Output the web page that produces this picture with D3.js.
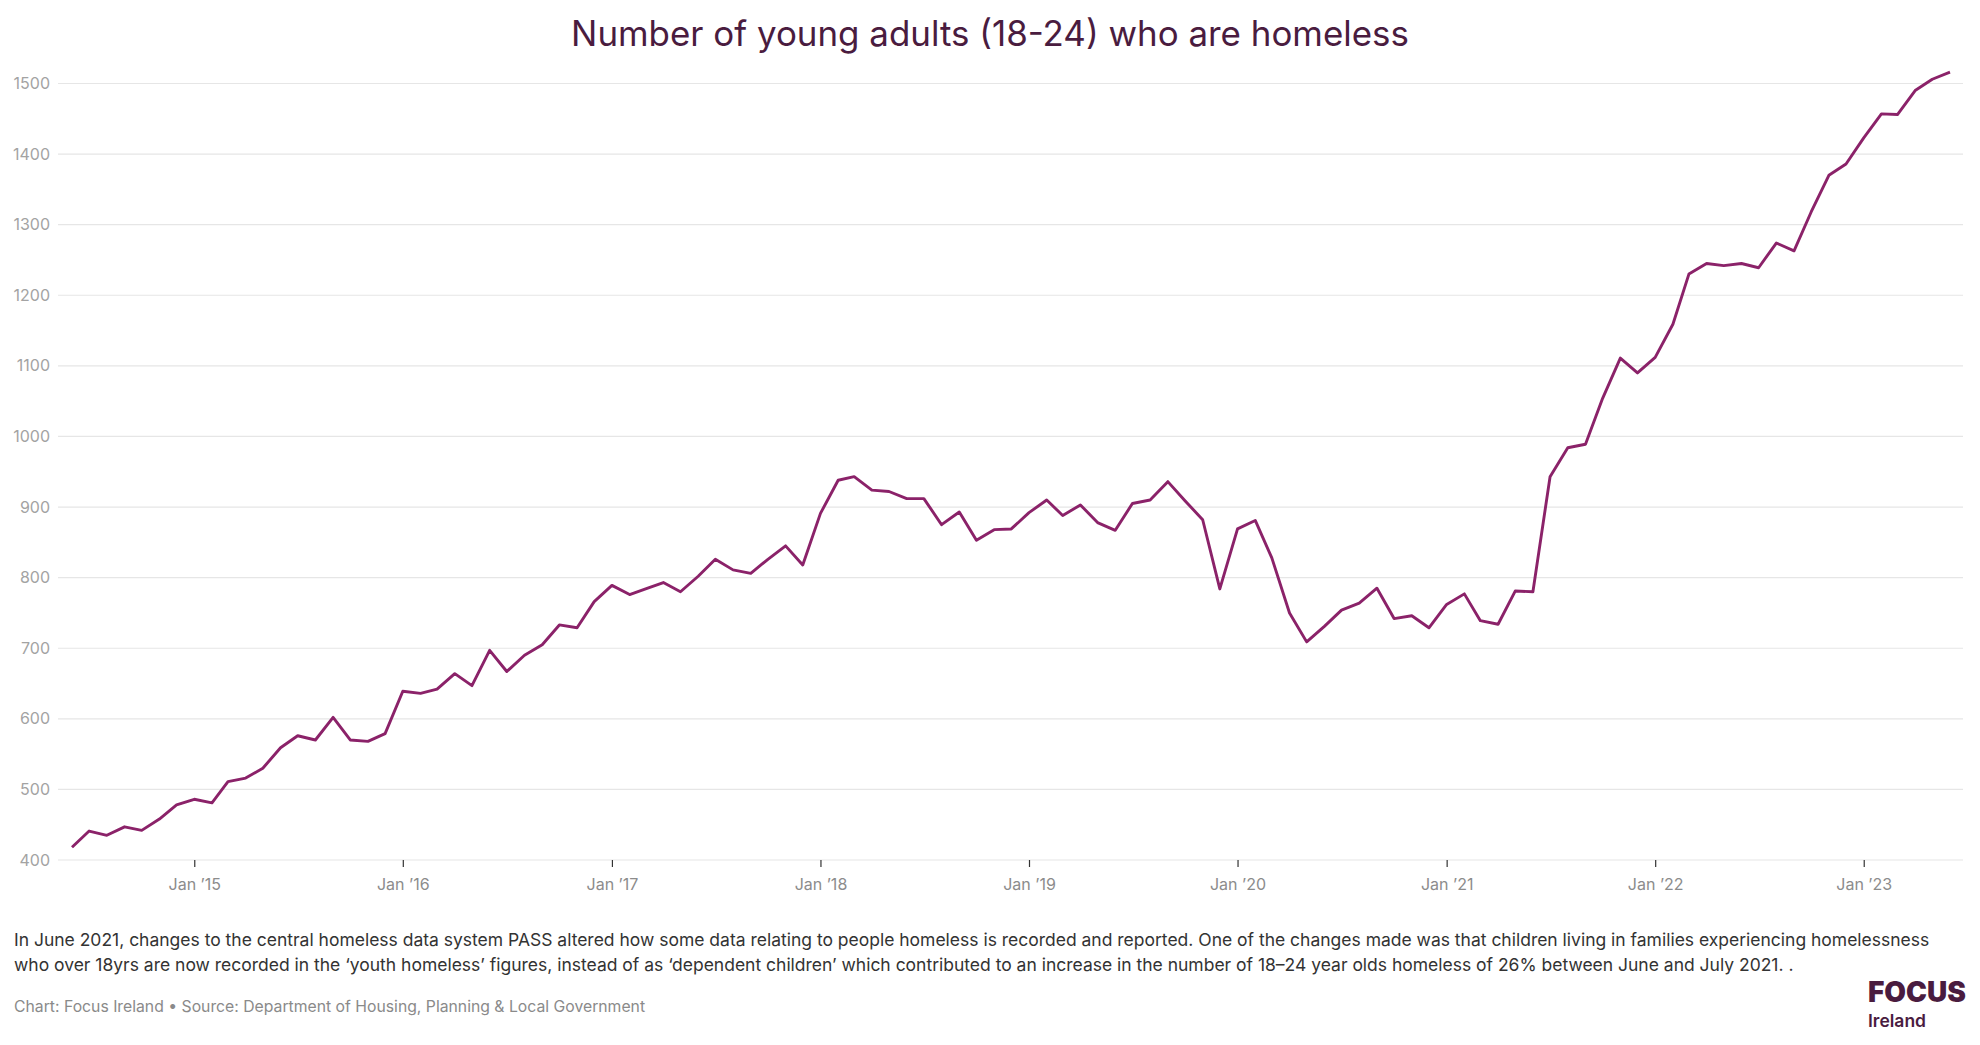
<!DOCTYPE html>
<html>
<head>
<meta charset="utf-8">
<script src="https://cdn.jsdelivr.net/npm/d3@7"></script>
<style>
  body { margin: 0; background: #fff; }
  svg { display: block; }
</style>
</head>
<body>
<div id="chart"></div>
<script>
// Monthly series, Jun 2014 - Jun 2023
const months = [
  "2014-06","2014-07","2014-08","2014-09","2014-10","2014-11","2014-12",
  "2015-01","2015-02","2015-03","2015-04","2015-05","2015-06","2015-07","2015-08","2015-09","2015-10","2015-11","2015-12",
  "2016-01","2016-02","2016-03","2016-04","2016-05","2016-06","2016-07","2016-08","2016-09","2016-10","2016-11","2016-12",
  "2017-01","2017-02","2017-03","2017-04","2017-05","2017-06","2017-07","2017-08","2017-09","2017-10","2017-11","2017-12",
  "2018-01","2018-02","2018-03","2018-04","2018-05","2018-06","2018-07","2018-08","2018-09","2018-10","2018-11","2018-12",
  "2019-01","2019-02","2019-03","2019-04","2019-05","2019-06","2019-07","2019-08","2019-09","2019-10","2019-11","2019-12",
  "2020-01","2020-02","2020-03","2020-04","2020-05","2020-06","2020-07","2020-08","2020-09","2020-10","2020-11","2020-12",
  "2021-01","2021-02","2021-03","2021-04","2021-05","2021-06","2021-07","2021-08","2021-09","2021-10","2021-11","2021-12",
  "2022-01","2022-02","2022-03","2022-04","2022-05","2022-06","2022-07","2022-08","2022-09","2022-10","2022-11","2022-12",
  "2023-01","2023-02","2023-03","2023-04","2023-05","2023-06"
];
const youngHomeless = [
  418, 441, 435, 447, 442, 458, 478,
  486, 481, 511, 516, 530, 559, 576, 570, 602, 570, 568, 579,
  639, 636, 642, 664, 647, 697, 667, 690, 705, 733, 729, 766,
  789, 776, 784, 793, 780, 802, 826, 811, 806, 826, 845, 818,
  891, 938, 943, 924, 922, 912, 912, 875, 893, 853, 868, 869,
  892, 910, 888, 903, 878, 867, 905, 910, 936, 909, 882, 784,
  869, 881, 828, 750, 709, 731, 754, 764, 785, 742, 746, 729,
  762, 777, 739, 734, 781, 780, 943, 984, 989, 1054, 1111, 1090,
  1112, 1159, 1230, 1245, 1242, 1245, 1239, 1274, 1263, 1318, 1370, 1386,
  1423, 1457, 1456, 1490, 1506, 1516
];
const yTicks = [400, 500, 600, 700, 800, 900, 1000, 1100, 1200, 1300, 1400, 1500];
const xTickYears = [2015, 2016, 2017, 2018, 2019, 2020, 2021, 2022, 2023];

const titleText = "Number of young adults (18-24) who are homeless";
const noteLines = [
  "In June 2021, changes to the central homeless data system PASS altered how some data relating to people homeless is recorded and reported. One of the changes made was that children living in families experiencing homelessness",
  "who over 18yrs are now recorded in the \u2018youth homeless\u2019 figures, instead of as \u2018dependent children\u2019 which contributed to an increase in the number of 18\u201324 year olds homeless of 26% between June and July 2021. ."
];
const sourceText = "Chart: Focus Ireland \u2022 Source: Department of Housing, Planning & Local Government";

const width = 1980, height = 1045;
const font = "Inter, 'Open Sans', sans-serif";
const purple = "#4a1c3f";

const parseMonth = d3.timeParse("%Y-%m");
const data = months.map((m, i) => ({ date: parseMonth(m), value: youngHomeless[i] }));

const svg = d3.select("#chart").append("svg")
  .attr("width", width)
  .attr("height", height);

// shrink/grow font so text spans the width seen in the original
function fitText(sel, target) {
  const fs = parseFloat(sel.attr("font-size"));
  const w = sel.node().getComputedTextLength();
  sel.attr("font-size", (fs * target / w).toFixed(2));
}

const x = d3.scaleTime()
  .domain([parseMonth("2014-06"), parseMonth("2023-06")])
  .range([72, 1950]);

const y = d3.scaleLinear()
  .domain([400, 1500])
  .range([860, 83.5]);

// title
const title = svg.append("text")
  .attr("x", 990)
  .attr("y", 46)
  .attr("text-anchor", "middle")
  .attr("font-family", font)
  .attr("font-size", 33)
  .attr("fill", purple)
  .text(titleText);
fitText(title, 838);

// gridlines
svg.append("g")
  .selectAll("line")
  .data(yTicks)
  .join("line")
  .attr("x1", 58)
  .attr("x2", 1963)
  .attr("y1", d => y(d))
  .attr("y2", d => y(d))
  .attr("stroke", "#e6e6e6")
  .attr("stroke-width", 1.2);

// y labels
svg.append("g")
  .selectAll("text")
  .data(yTicks)
  .join("text")
  .attr("x", 50)
  .attr("y", d => y(d) + 5.5)
  .attr("text-anchor", "end")
  .attr("font-family", font)
  .attr("font-size", 16)
  .attr("fill", "#a3a3a3")
  .text(d => d);

// x axis ticks + labels
const xTicks = xTickYears.map(yr => new Date(yr, 0, 1));
const xAxis = d3.axisBottom(x)
  .tickValues(xTicks)
  .tickSize(7)
  .tickPadding(12)
  .tickFormat(d => "Jan \u2019" + d3.timeFormat("%y")(d));

const gx = svg.append("g")
  .attr("transform", `translate(0,${y(400)})`)
  .call(xAxis);
gx.select(".domain").remove();
gx.selectAll(".tick line").attr("stroke", "#333").attr("stroke-width", 1.2);
gx.selectAll(".tick text")
  .attr("font-family", font)
  .attr("font-size", 16)
  .attr("fill", "#8c8c8c");

// the line
const line = d3.line()
  .x(d => x(d.date))
  .y(d => y(d.value));

svg.append("path")
  .datum(data)
  .attr("fill", "none")
  .attr("stroke", "#8b2269")
  .attr("stroke-width", 2.9)
  .attr("stroke-linejoin", "round")
  .attr("d", line);

// notes
let noteSize = 17;
noteLines.forEach((t, i) => {
  const n = svg.append("text")
    .attr("x", 14)
    .attr("y", 946 + i * 25)
    .attr("font-family", font)
    .attr("font-size", noteSize)
    .attr("fill", "#333")
    .text(t);
  if (i === 0) {
    fitText(n, 1916);
    noteSize = n.attr("font-size");
  }
});

const src = svg.append("text")
  .attr("x", 14)
  .attr("y", 1012)
  .attr("font-family", font)
  .attr("font-size", 16)
  .attr("fill", "#8a8a8a")
  .text(sourceText);
fitText(src, 631);

// logo
const logo1 = svg.append("text")
  .attr("x", 1868)
  .attr("y", 1002)
  .attr("font-family", font)
  .attr("font-weight", 900)
  .attr("font-size", 29)
  .attr("fill", purple)
  .text("FOCUS");
fitText(logo1, 98);

const logo2 = svg.append("text")
  .attr("x", 1868)
  .attr("y", 1027)
  .attr("font-family", font)
  .attr("font-weight", 600)
  .attr("font-size", 18)
  .attr("fill", purple)
  .text("Ireland");
fitText(logo2, 58);
</script>
</body>
</html>
